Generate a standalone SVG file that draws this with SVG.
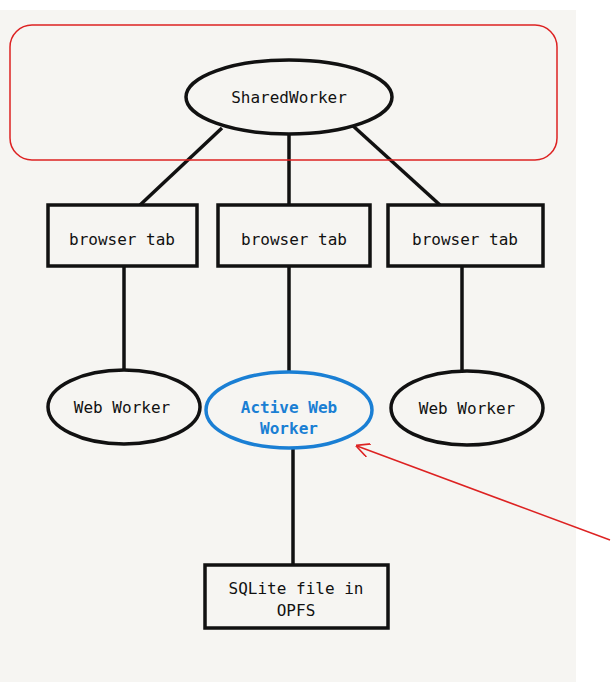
<svg xmlns="http://www.w3.org/2000/svg" width="612" height="696" viewBox="0 0 612 696">
<style>
.n{fill:#f6f5f2;stroke:#111;stroke-width:3.5}
.t{font-family:"DejaVu Sans Mono",monospace;font-size:16px;fill:#111;text-anchor:middle}
.c line{stroke:#111;stroke-width:3.5}
</style>
<defs><marker id="ah" viewBox="0 0 10 10" refX="9" refY="5" markerWidth="14" markerHeight="14" orient="auto" markerUnits="userSpaceOnUse"><path d="M0,0 L10,5 L0,10" fill="none" stroke="#d22" stroke-width="1.2"/></marker></defs>
<rect width="612" height="696" fill="#fff"/>
<rect x="0" y="10" width="576" height="672" fill="#f6f5f2"/>
<g class="c">
<line x1="222" y1="128" x2="140" y2="205"/>
<line x1="289" y1="134" x2="289" y2="205"/>
<line x1="352" y1="125" x2="440" y2="205"/>
<line x1="124" y1="266" x2="124" y2="371"/>
<line x1="289" y1="266" x2="289" y2="372"/>
<line x1="462" y1="266" x2="462" y2="371"/>
<line x1="293" y1="448" x2="293" y2="565"/>
<path d="M610,540 L357,446" stroke="#d22" stroke-width="1.5" fill="none" marker-end="url(#ah)"/>
</g>
<rect x="10" y="25" width="547" height="135" rx="22" fill="none" stroke="#d22" stroke-width="1.5"/>
<g id="shared"><ellipse class="n" cx="289" cy="97" rx="103" ry="37"/><text class="t" x="289" y="103">SharedWorker</text></g>
<g id="tab1"><rect class="n" x="48" y="205" width="149" height="61"/><text class="t" x="122" y="245">browser tab</text></g>
<g id="tab2"><rect class="n" x="218" y="205" width="152" height="61"/><text class="t" x="294" y="245">browser tab</text></g>
<g id="tab3"><rect class="n" x="388" y="205" width="155" height="61"/><text class="t" x="465" y="245">browser tab</text></g>
<g id="ww1"><ellipse class="n" cx="124" cy="407" rx="76" ry="37"/><text class="t" x="122" y="413">Web Worker</text></g>
<g id="active"><ellipse class="n" cx="289" cy="410" rx="83" ry="38" style="stroke:#1a7fd4"/><text class="t" x="289" y="413" style="fill:#1a7fd4;font-weight:bold">Active Web</text><text class="t" x="289" y="434" style="fill:#1a7fd4;font-weight:bold">Worker</text></g>
<g id="ww3"><ellipse class="n" cx="467" cy="408" rx="76" ry="37"/><text class="t" x="467" y="414">Web Worker</text></g>
<g id="sqlite"><rect class="n" x="205" y="565" width="183" height="63"/><text class="t" x="296" y="594">SQLite file in</text><text class="t" x="296" y="616">OPFS</text></g>
</svg>
